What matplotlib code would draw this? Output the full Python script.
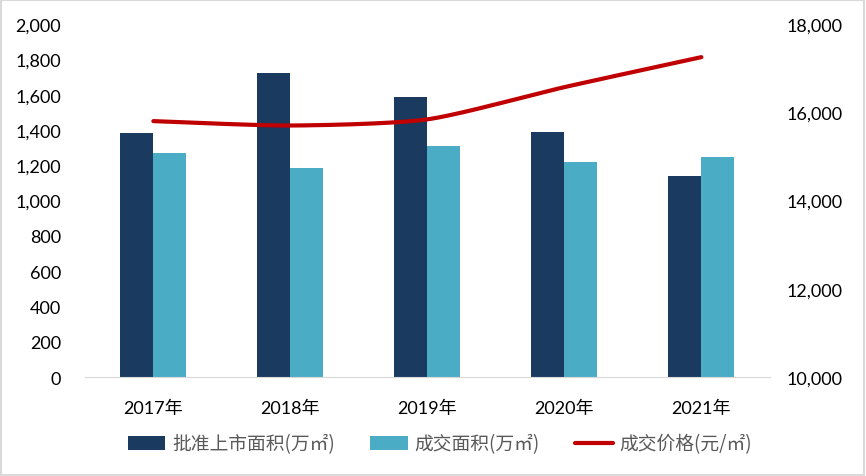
import numpy as np
import matplotlib.pyplot as plt
from matplotlib.patches import Rectangle
from matplotlib.ticker import FuncFormatter

years = ["2017年", "2018年", "2019年", "2020年", "2021年"]
approved_area = [1380, 1724, 1584, 1390, 1138]   # 批准上市面积(万㎡)
sold_area = [1268, 1183, 1307, 1217, 1246]       # 成交面积(万㎡)
sold_price = [15800, 15700, 15840, 16570, 17250]  # 成交价格(元/㎡)

DARK = "#1A3A5F"
LIGHT = "#4BACC6"
RED = "#C00000"
CJK = ["Noto Sans CJK SC", "DejaVu Sans"]
NUM = ["Lato", "Noto Sans CJK SC", "DejaVu Sans"]


def smooth(x, y, n=40, t=0.35):
    # cardinal spline through the points, like a smoothed office line
    x = np.asarray(x, float)
    y = np.asarray(y, float)
    px = np.concatenate([[x[0]], x, [x[-1]]])
    py = np.concatenate([[y[0]], y, [y[-1]]])
    xs, ys = [], []
    s = np.linspace(0, 1, n)
    for i in range(1, len(px) - 2):
        m0x = t * (px[i + 1] - px[i - 1])
        m0y = t * (py[i + 1] - py[i - 1])
        m1x = t * (px[i + 2] - px[i])
        m1y = t * (py[i + 2] - py[i])
        h00 = 2 * s**3 - 3 * s**2 + 1
        h10 = s**3 - 2 * s**2 + s
        h01 = -2 * s**3 + 3 * s**2
        h11 = s**3 - s**2
        xs.append(h00 * px[i] + h10 * m0x + h01 * px[i + 1] + h11 * m1x)
        ys.append(h00 * py[i] + h10 * m0y + h01 * py[i + 1] + h11 * m1y)
    return np.concatenate(xs), np.concatenate(ys)


fig = plt.figure(figsize=(8.66, 4.77), dpi=100)
ax = fig.add_axes([0.098, 0.2075, 0.791, 0.740])

x = np.arange(len(years))
w = 0.24
ax.bar(x - w / 2, approved_area, w, color=DARK, label="批准上市面积(万㎡)")
ax.bar(x + w / 2, sold_area, w, color=LIGHT, label="成交面积(万㎡)")
ax.set_xlim(-0.5, len(years) - 0.5)
ax.set_ylim(0, 2000)
ax.set_yticks(np.arange(0, 2001, 200))
ax.yaxis.set_major_formatter(FuncFormatter(lambda v, p: f"{v:,.0f}"))
ax.set_xticks(x)
ax.set_xticklabels(years, family=NUM, fontsize=13)

ax2 = ax.twinx()
sx, sy = smooth(x, sold_price)
ax2.plot(sx, sy, color=RED, lw=3, solid_capstyle="round", label="成交价格(元/㎡)")
ax2.set_ylim(10000, 18000)
ax2.set_yticks(np.arange(10000, 18001, 2000))
ax2.yaxis.set_major_formatter(FuncFormatter(lambda v, p: f"{v:,.0f}"))

for a in (ax, ax2):
    for side in ("top", "left", "right", "bottom"):
        a.spines[side].set_visible(False)
    a.tick_params(length=0, labelsize=13)
    for lab in a.get_yticklabels():
        lab.set_family(NUM)
ax.spines["bottom"].set_visible(True)
ax.spines["bottom"].set_color("#D9D9D9")
ax.tick_params(axis="y", pad=17)
ax.tick_params(axis="x", pad=16)
ax2.tick_params(axis="y", pad=12)

h1, l1 = ax.get_legend_handles_labels()
h2, l2 = ax2.get_legend_handles_labels()
fig.legend(h1 + h2, l1 + l2, loc="center", bbox_to_anchor=(0.508, 0.067),
           ncol=3, frameon=False, prop={"family": CJK, "size": 13.5},
           labelcolor="#595959", handlelength=2.0, handletextpad=0.35,
           columnspacing=1.9)

fig.add_artist(Rectangle((0.001, 0.002), 0.997, 0.995, transform=fig.transFigure,
                         fill=False, edgecolor="#D9D9D9", lw=1.5))

fig.savefig("out.png", dpi=100)
